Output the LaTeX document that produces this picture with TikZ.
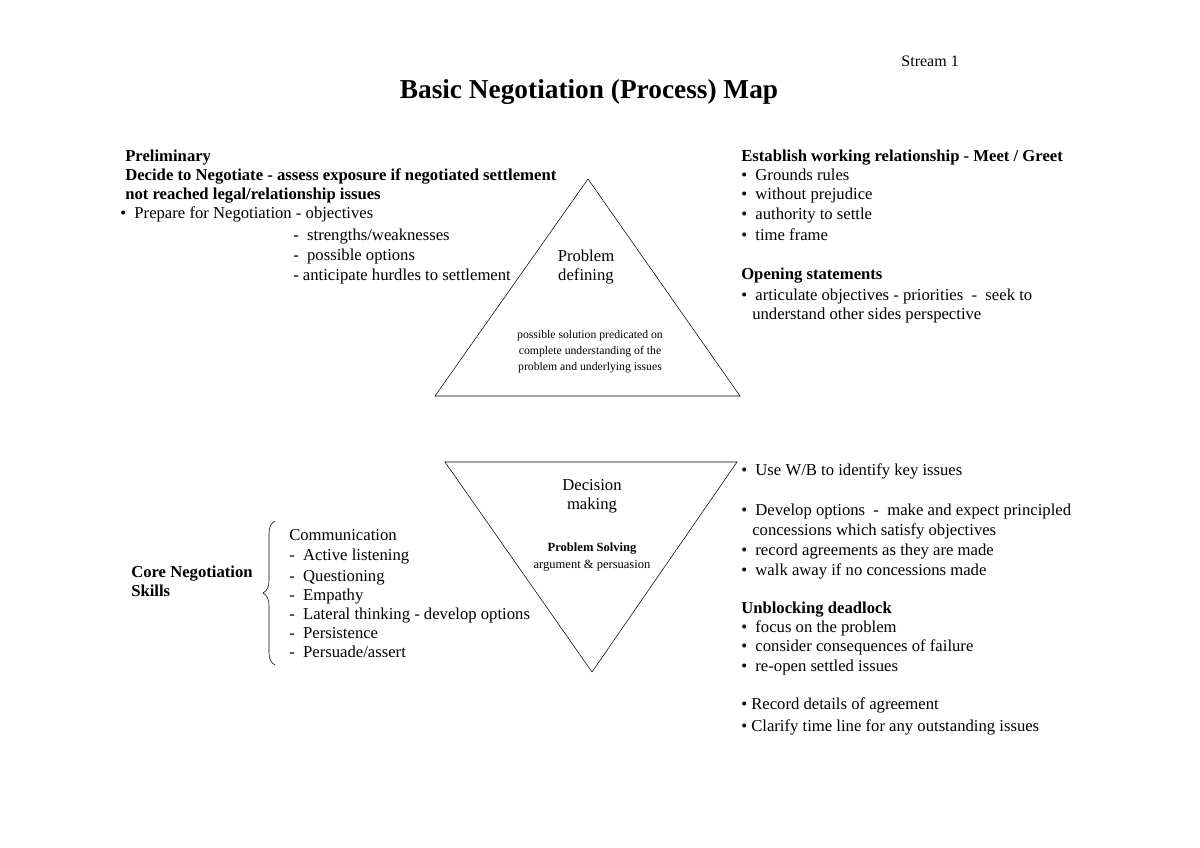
\documentclass[tikz,border=0pt]{standalone}
\usepackage{fontspec}
\setmainfont{Liberation Serif}
\usetikzlibrary{decorations.pathreplacing}

\tikzset{
  txt/.style={anchor=base west, inner sep=0.75pt, font=\fontsize{12.5}{14}\selectfont},
  hdr/.style={anchor=base west, inner sep=0.75pt, font=\fontsize{12.5}{14}\selectfont\bfseries},
  mid/.style={anchor=center, inner sep=0.75pt, align=center, font=\fontsize{12.5}{14.5}\selectfont},
  tiny/.style={anchor=center, inner sep=0.75pt, align=center, font=\fontsize{8.8}{12}\selectfont},
}

\begin{document}
\begin{tikzpicture}[x=0.75pt,y=0.75pt,yscale=-1,xscale=1]
        \useasboundingbox (0,0) rectangle (1200,848);

        % Title
        \node [anchor=center, inner sep=0.75pt, font=\fontsize{20.5}{22}\selectfont\bfseries] (title) at (589,92) {Basic Negotiation (Process) Map};
        \node [anchor=base east, inner sep=0.75pt, font=\fontsize{12}{14}\selectfont] (stream) at (960,67) {Stream 1};

        %Shape: Triangle (problem defining)
        \coordinate (pdTop) at (588,179);
        \coordinate (pdL) at (435,396);
        \coordinate (pdR) at (740,396);
        \draw (pdTop) -- (pdR) -- (pdL) -- cycle ;
        %Shape: Triangle (decision making)
        \coordinate (dmL) at (445,462);
        \coordinate (dmR) at (737,462);
        \coordinate (dmBot) at (592,672);
        \draw (dmL) -- (dmR) -- (dmBot) -- cycle ;

        % Text Node
        \node [mid] (defining) at (586,267) {Problem\\defining};
        \node [tiny] (solution) at (590,352) {possible solution predicated on\\complete understanding of the\\problem and underlying issues};
        \node [mid] (deciding) at (592,496) {Decision\\making};
        \node [tiny, font=\fontsize{9.4}{12.5}\selectfont] (solving) at (592,557) {\textbf{Problem Solving}\\argument \& persuasion};

        % Preliminary
        \node [hdr] (prelim) at (124,162) {Preliminary};
        \node [hdr] (decide) at (124,181) {Decide to Negotiate - assess exposure if negotiated settlement};
        \node [hdr] (reached) at (124,200) {not reached legal/relationship issues};
        \node [txt] (prepare) at (119,219) {\textbullet\ \ Prepare for Negotiation - objectives};
        \node [txt] (strengths) at (292,241) {-\ \ strengths/weaknesses};
        \node [txt] (options) at (292,261) {-\ \ possible options};
        \node [txt] (hurdles) at (292,281) {- anticipate hurdles to settlement};

        % Working relationship
        \node [hdr] (establish) at (740,162) {Establish working relationship - Meet / Greet};
        \node [txt] (ground) at (740,181) {\textbullet\ \ Grounds rules};
        \node [txt] (prejudice) at (740,200) {\textbullet\ \ without prejudice};
        \node [txt] (authority) at (740,220) {\textbullet\ \ authority to settle};
        \node [txt] (timeframe) at (740,241) {\textbullet\ \ time frame};
        \node [hdr] (opening) at (740,280) {Opening statements};
        \node [txt] (articulate) at (740,301) {\textbullet\ \ articulate objectives - priorities\ \ -\ \ seek to};
        \node [txt] (understand) at (751,320) {understand other sides perspective};

        % Core skills
        \node [hdr] (core) at (130,577) {Core Negotiation};
        \node [hdr] (skills) at (130,596) {Skills};
        \coordinate (braceBot) at (275,665);
        \coordinate (braceTop) at (275,521);
        \draw [decorate, decoration={brace, amplitude=9pt}] (braceBot) -- (braceTop);
        \node [txt] (comm) at (288,541) {Communication};
        \node [txt] (listen) at (288,561) {-\ \ Active listening};
        \node [txt] (question) at (288,581) {-\ \ Questioning};
        \node [txt] (empathy) at (288,600) {-\ \ Empathy};
        \node [txt] (lateral) at (288,619) {-\ \ Lateral thinking - develop options};
        \node [txt] (persist) at (288,638) {-\ \ Persistence};
        \node [txt] (persuade) at (288,657) {-\ \ Persuade/assert};

        % Decision making notes
        \node [txt] (usewb) at (740,476) {\textbullet\ \ Use W/B to identify key issues};
        \node [txt] (develop) at (740,516) {\textbullet\ \ Develop options\ \ -\ \ make and expect principled};
        \node [txt] (concess) at (751,535) {concessions which satisfy objectives};
        \node [txt] (record) at (740,555) {\textbullet\ \ record agreements as they are made};
        \node [txt] (walk) at (740,575) {\textbullet\ \ walk away if no concessions made};
        \node [hdr] (unblock) at (740,613) {Unblocking deadlock};
        \node [txt] (focus) at (740,632) {\textbullet\ \ focus on the problem};
        \node [txt] (failure) at (740,651) {\textbullet\ \ consider consequences of failure};
        \node [txt] (reopen) at (740,671) {\textbullet\ \ re-open settled issues};
        \node [txt] (details) at (740,709) {\textbullet\ Record details of agreement};
        \node [txt] (clarify) at (740,731) {\textbullet\ Clarify time line for any outstanding issues};
    \end{tikzpicture}
\end{document}
